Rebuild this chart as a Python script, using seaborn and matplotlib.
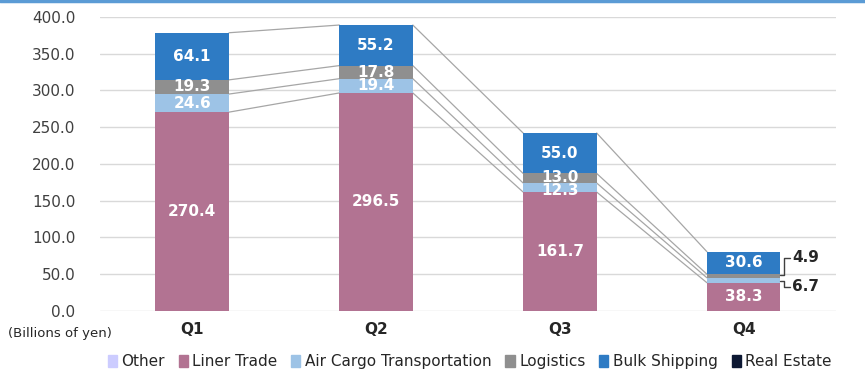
import numpy as np
import pandas as pd
import matplotlib.pyplot as plt
import matplotlib.patches as mpatches
from matplotlib.lines import Line2D
import seaborn as sns

# --- DATA ---
quarters = ['Q1', 'Q2', 'Q3', 'Q4']
segments = ['Other', 'Liner Trade', 'Air Cargo Transportation', 'Logistics', 'Bulk Shipping', 'Real Estate']
other = [0.0, 0.0, 0.0, 0.0]
liner_trade = [270.4, 296.5, 161.7, 38.3]
air_cargo = [24.6, 19.4, 12.3, 6.7]
logistics = [19.3, 17.8, 13.0, 4.9]
bulk_shipping = [64.1, 55.2, 55.0, 30.6]
real_estate = [0.0, 0.0, 0.0, 0.0]

# Colors
COLORS = {
    'Other': '#CCCCFF',
    'Liner Trade': '#B27392',
    'Air Cargo Transportation': '#9DC3E6',
    'Logistics': '#8F8F8F',
    'Bulk Shipping': '#2E7BC4',
    'Real Estate': '#0D1833',
}

df = pd.DataFrame({
    'Quarter': quarters,
    'Other': other,
    'Liner Trade': liner_trade,
    'Air Cargo Transportation': air_cargo,
    'Logistics': logistics,
    'Bulk Shipping': bulk_shipping,
    'Real Estate': real_estate,
})

sns.set_style('white')
plt.rcParams['font.family'] = ['DejaVu Sans']

fig = plt.figure(figsize=(8.65, 3.75), dpi=100)
ax = fig.add_axes([0.116, 0.171, 0.850, 0.784])

W = 0.4
bottom = np.zeros(len(quarters))
tops = {}
for seg in segments:
    vals = df[seg].values
    sns.barplot(x=df['Quarter'], y=vals, bottom=bottom, color=COLORS[seg],
                width=W, ax=ax, zorder=3, saturation=1, linewidth=0)
    tops[seg] = bottom + vals
    bottom = bottom + vals

# data labels (small segments nudged like the original)
outside = {(3, 'Air Cargo Transportation'), (3, 'Logistics')}
nudge = {(2, 'Air Cargo Transportation'): -3.5, (2, 'Logistics'): 0.5}
for seg in ['Liner Trade', 'Air Cargo Transportation', 'Logistics', 'Bulk Shipping']:
    vals = df[seg].values
    for i, v in enumerate(vals):
        if (i, seg) in outside:
            continue
        yc = tops[seg][i] - v / 2 + nudge.get((i, seg), 0)
        ax.text(i, yc, f'{v:.1f}', ha='center', va='center', color='white',
                fontsize=11, fontweight='bold', zorder=5)

# Q4 outside labels with small leader lines
log_mid = tops['Logistics'][3] - logistics[3] / 2
air_mid = tops['Air Cargo Transportation'][3] - air_cargo[3] / 2
ax.plot([3.2, 3.222, 3.222, 3.25], [log_mid + 1.5, log_mid + 1.5, 72, 72], color='#404040', lw=1, zorder=4)
ax.text(3.265, 72, f'{logistics[3]:.1f}', ha='left', va='center', fontsize=11, fontweight='bold', color='#262626')
ax.plot([3.2, 3.222, 3.222, 3.25], [air_mid - 1, air_mid - 1, 33, 33], color='#404040', lw=1, zorder=4)
ax.text(3.265, 33, f'{air_cargo[3]:.1f}', ha='left', va='center', fontsize=11, fontweight='bold', color='#262626')

# connector lines between bars
for seg in ['Liner Trade', 'Air Cargo Transportation', 'Logistics', 'Bulk Shipping']:
    for i in range(len(quarters) - 1):
        ax.plot([i + W / 2, i + 1 - W / 2], [tops[seg][i], tops[seg][i + 1]],
                color='#A6A6A6', lw=0.9, zorder=2)

ax.set_xlim(-0.5, 3.5)
ax.set_ylim(0, 400)
ax.set_yticks(np.arange(0, 401, 50))
ax.set_yticklabels([f'{t:.1f}' for t in np.arange(0, 401, 50)], fontsize=11, color='#404040')
ax.set_xticklabels(quarters, fontsize=11, fontweight='bold', color='#262626')
ax.set_xlabel('')
ax.set_ylabel('')
ax.tick_params(axis='both', length=0, pad=8)
ax.tick_params(axis='y', pad=18)
ax.yaxis.grid(True, color='#D9D9D9', lw=1, zorder=0)
ax.set_axisbelow(True)
for s in ax.spines.values():
    s.set_visible(False)

fig.text(0.009, 0.112, '(Billions of yen)', fontsize=9.5, color='#262626', va='center')

handles = [mpatches.Patch(color=COLORS[s], label=s) for s in segments]
fig.legend(handles=handles, loc='center', bbox_to_anchor=(0.543, 0.035), ncol=6,
           frameon=False, fontsize=11, handlelength=0.6, handleheight=0.8,
           handletextpad=0.3, columnspacing=0.9, labelcolor='#262626')

# top border line
fig.add_artist(Line2D([0, 1], [0.997, 0.997], color='#5B9BD5', lw=2.5, transform=fig.transFigure))

fig.savefig('out.png', dpi=100)
